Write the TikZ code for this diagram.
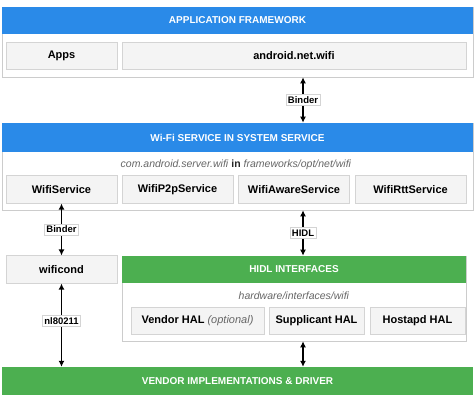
\documentclass[tikz,border=0pt]{standalone}
\usepackage{fontspec}
\setmainfont{Liberation Sans}
\usetikzlibrary{arrows.meta,positioning,shadows}
\definecolor{fwblue}{HTML}{2A8AE8}
\definecolor{halgreen}{HTML}{4CAF50}
\definecolor{boxgray}{HTML}{F4F4F4}
\definecolor{linegray}{HTML}{D4D4D4}
\definecolor{notegray}{HTML}{666666}

\begin{document}
\begin{tikzpicture}[x=1pt,y=-1pt,>=Latex,
 layer/.style={draw=gray!40,fill=white,line width=.6pt,inner sep=0,
  drop shadow={opacity=.3,shadow xshift=0pt,shadow yshift=-1.2pt}},
 bar/.style={fill=#1,text=white,font=\fontsize{10}{12}\selectfont\bfseries,inner sep=0},
 modbox/.style={draw=linegray,fill=boxgray,line width=.6pt,inner sep=0,
  font=\fontsize{11}{13}\selectfont\bfseries,minimum height=27.5pt},
 note/.style={text=notegray,font=\fontsize{10.5}{12}\selectfont,inner sep=0},
 tag/.style={draw=linegray,fill=white,line width=.5pt,inner sep=2pt,
  font=\fontsize{9.5}{11}\selectfont\bfseries},
 conn/.style={<->,line width=1.2pt,>={Latex[length=6pt,width=6pt]}}]
\useasboundingbox (0,0) rectangle (474,398);

% application framework
\node[layer,minimum width=471pt,minimum height=70pt] (fw) at (237.5,42) {};
\node[bar=fwblue,minimum width=471pt,minimum height=27pt] (fwhead) at (237.5,20.5) {APPLICATION FRAMEWORK};
\node[modbox,minimum width=111pt] (apps) at (61.5,56) {Apps};
\node[modbox,minimum width=344pt] (netwifi) at (294,56) {android.net.wifi};

% wifi service
\node[layer,minimum width=471pt,minimum height=87pt] (svc) at (237.5,166.5) {};
\node[bar=fwblue,minimum width=471pt,minimum height=29pt] (svchead) at (237.5,137.5) {Wi-Fi SERVICE IN SYSTEM SERVICE};
\node[note] (svcpath) at (236,165)
 {\textit{com.android.server.wifi} \textbf{\color{black!85}in} \textit{frameworks/opt/net/wifi}};
\foreach \nm/\cx/\txt in {wsvc/61.5/WifiService,p2p/177.5/WifiP2pService,
 aware/294/WifiAwareService,rtt/410.5/WifiRttService}{
 \node[modbox,minimum width=111pt] (\nm) at (\cx,189.5) {\txt};
}

% hidl interfaces
\node[modbox,fill=boxgray,minimum width=111pt,
 drop shadow={opacity=.25,shadow xshift=0pt,shadow yshift=-1pt}] (wcond) at (61.5,269.5) {wificond};
\node[layer,minimum width=344pt,minimum height=85pt] (hidl) at (294,298.5) {};
\node[bar=halgreen,minimum width=344pt,minimum height=27pt] (hidlhead) at (294,269.5) {HIDL INTERFACES};
\node[note] (halpath) at (294,296) {\textit{hardware/interfaces/wifi}};
\node[modbox,minimum width=133pt] (vhal) at (197.5,321)
 {Vendor HAL {\mdseries\itshape\color{notegray}(optional)}};
\node[modbox,minimum width=95pt] (suphal) at (316.5,321) {Supplicant HAL};
\node[modbox,minimum width=95pt] (aphal) at (417.5,321) {Hostapd HAL};

% vendor
\node[bar=halgreen,minimum width=471pt,minimum height=28pt] (vendor) at (237.5,381)
 {VENDOR IMPLEMENTATIONS \& DRIVER};

% connectors
\coordinate (hidlx) at (303,0);
\draw[conn] (fw.south -| hidlx) -- (svc.north -| hidlx) node[tag,midway] (bindtop) {Binder};
\draw[conn] (wsvc.south) -- (wcond.north) node[tag,midway] (bindleft) {Binder};
\draw[conn] (svc.south -| hidlx) -- (hidl.north -| hidlx) node[tag,midway] (hidltag) {HIDL};
\draw[conn] (wcond.south) -- (vendor.north -| wcond) node[tag,pos=.45] (nltag) {nl80211};
\draw[conn] (hidl.south -| hidlx) -- (vendor.north -| hidlx);
\end{tikzpicture}
\end{document}
